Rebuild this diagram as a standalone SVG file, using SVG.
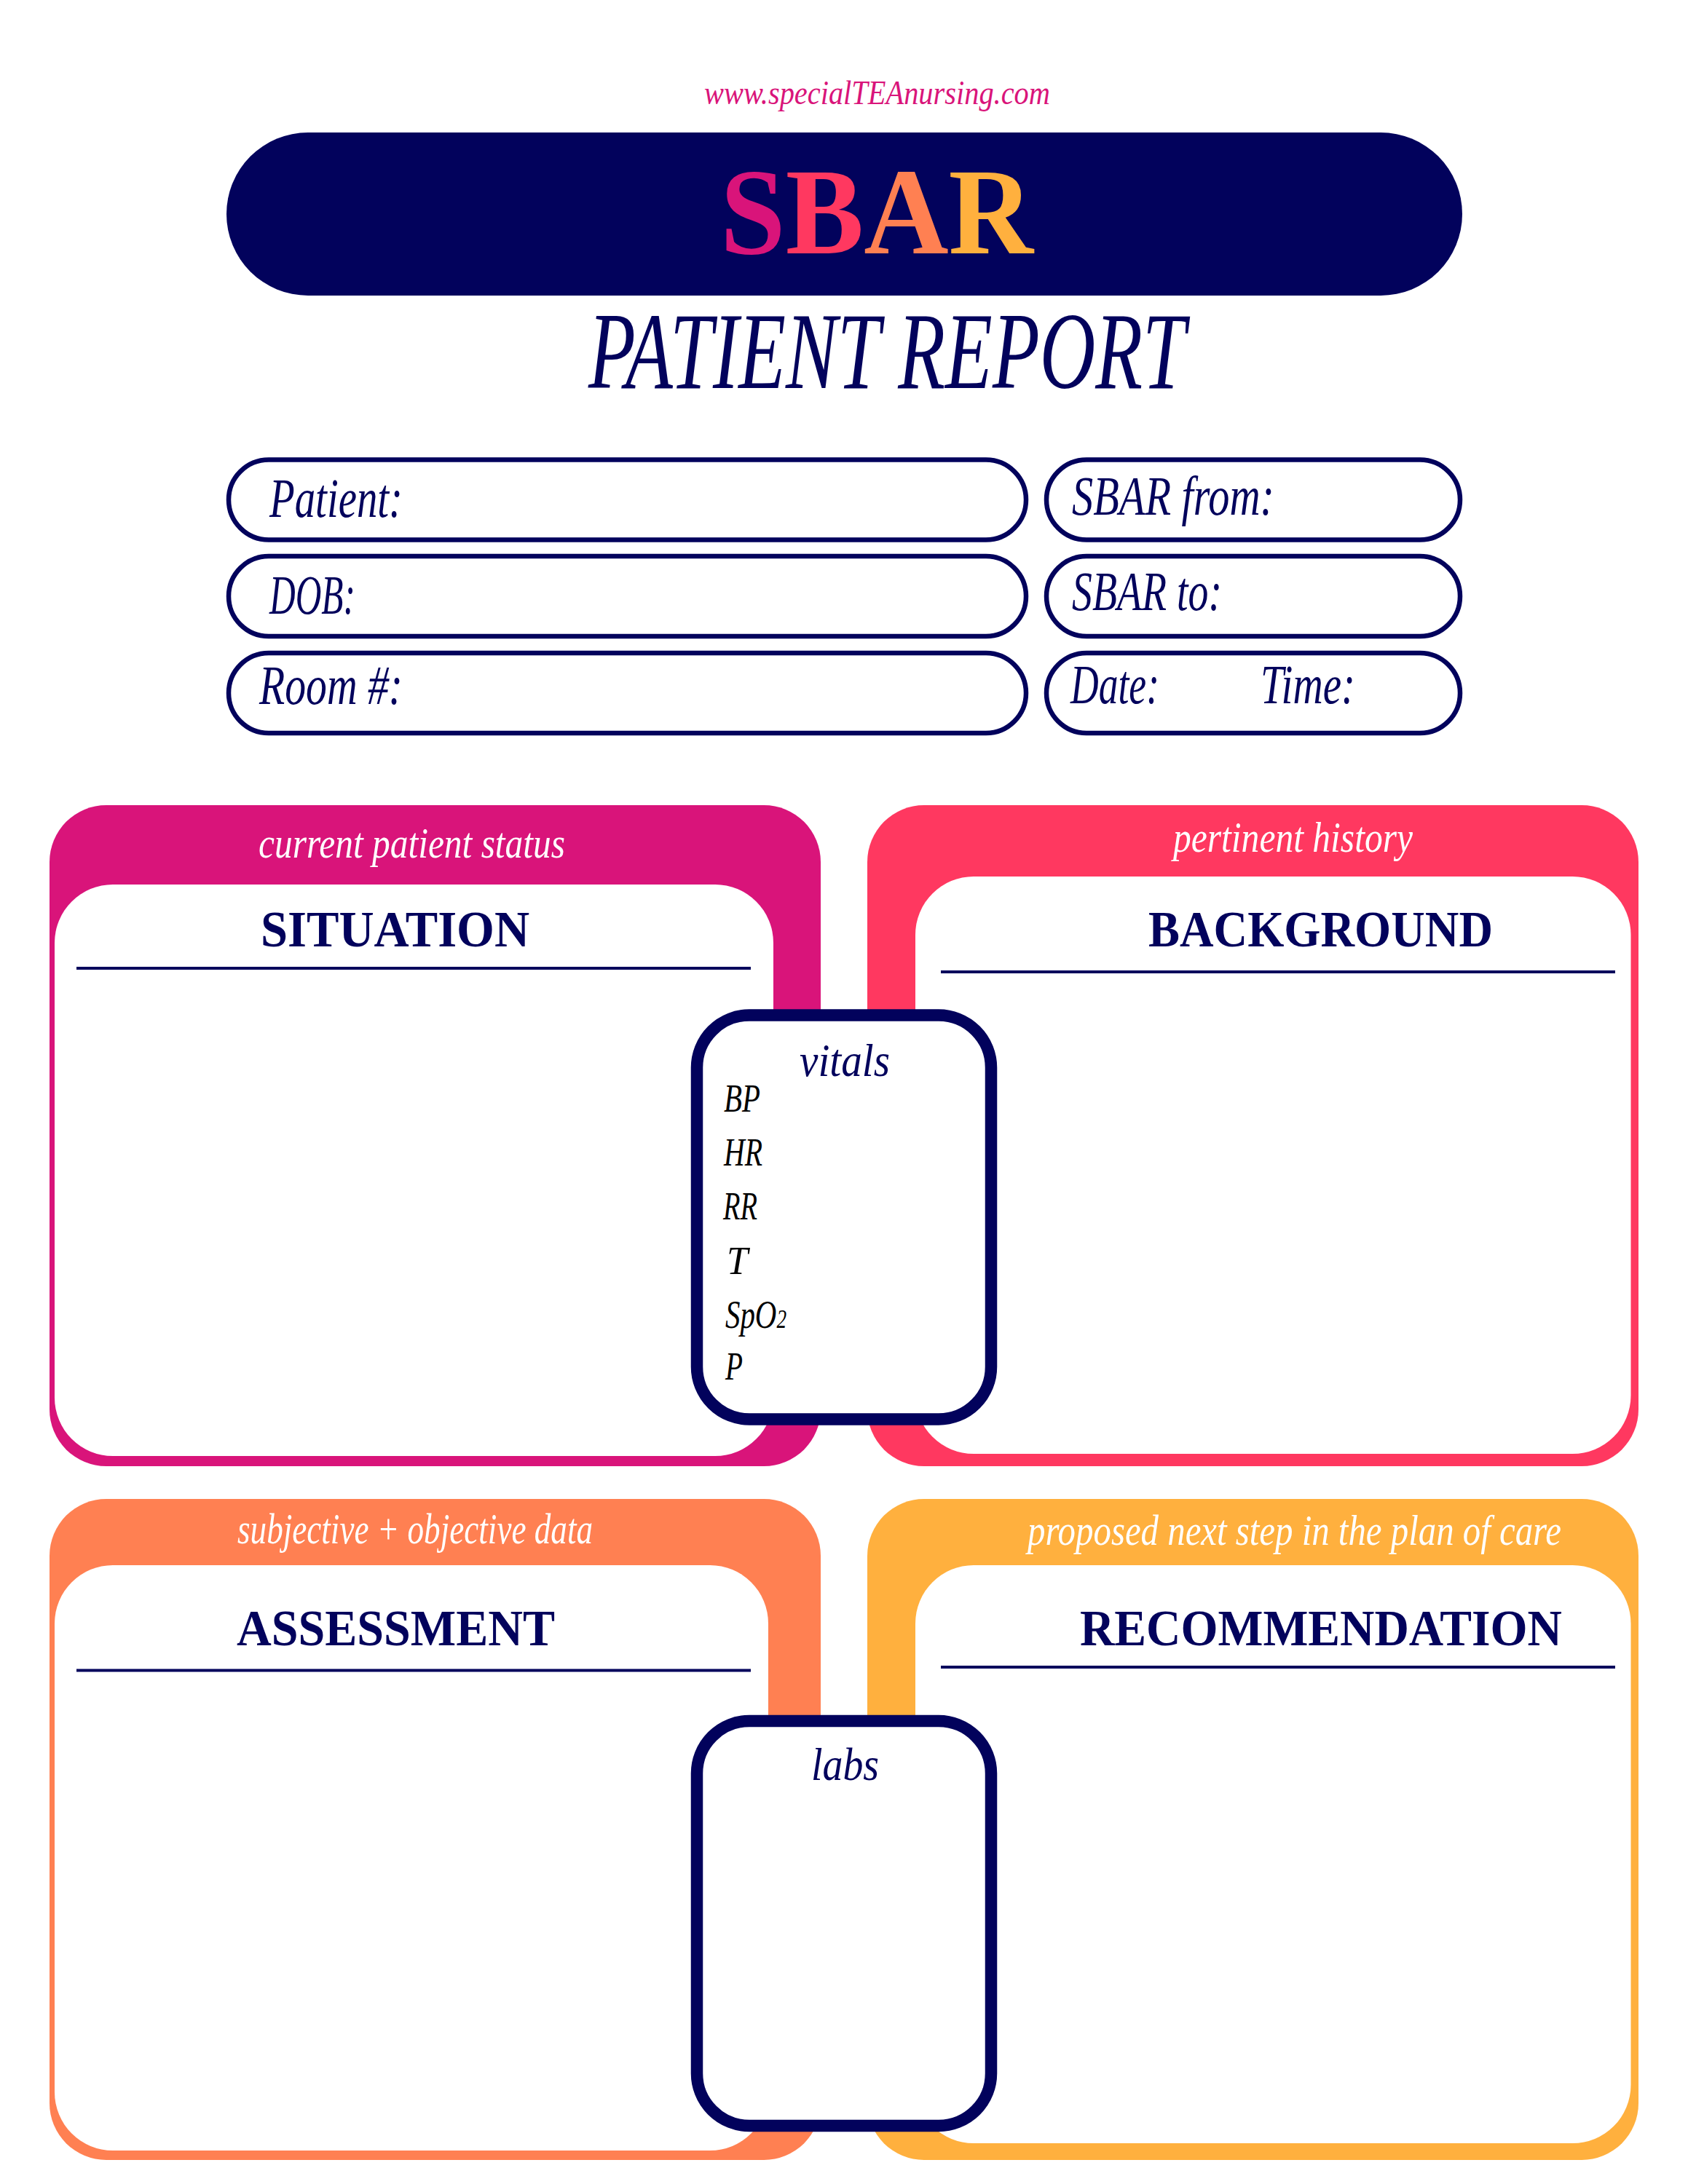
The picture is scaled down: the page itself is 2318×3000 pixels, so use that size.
<svg xmlns="http://www.w3.org/2000/svg" width="2318" height="3000" viewBox="0 0 2318 3000">
<style>
.serif{font-family:"Liberation Serif",serif;font-weight:700}
.script{font-family:"Liberation Serif",serif;font-style:italic;font-weight:400}
.navy{fill:#02025c}
.white{fill:#fff}
.black{fill:#000}
.field{fill:#fff;stroke:#02025c;stroke-width:6.500}
.head{font-size:70px;fill:#02025c}
.sub{font-size:60px;fill:#fff}
.label{font-size:76px;fill:#02025c}
.vital{font-size:54px;fill:#000}
.rule{stroke:#02025c;stroke-width:4}
.card{fill:#fff;stroke:#02025c;stroke-width:16.500}
</style>
<rect width="2318" height="3000" fill="#fff"/>

<g id="header">
<text class="script" x="967" y="143" font-size="46" fill="#d9147a" textLength="475" lengthAdjust="spacingAndGlyphs">www.specialTEAnursing.com</text>
<rect class="navy" x="311" y="182" width="1697" height="224" rx="112"/>
<text class="serif" x="989" y="348" font-size="170" textLength="430" lengthAdjust="spacingAndGlyphs"><tspan fill="#d9147a">S</tspan><tspan fill="#ff3860">B</tspan><tspan fill="#ff8052">A</tspan><tspan fill="#ffb03e">R</tspan></text>
<text class="script navy" x="808" y="533" font-size="150" textLength="820" lengthAdjust="spacingAndGlyphs">PATIENT REPORT</text>
</g>

<g id="field-patient"><rect class="field" x="314" y="631.500" width="1095" height="110" rx="55"/><text class="script label" x="370" y="710" textLength="183" lengthAdjust="spacingAndGlyphs">Patient:</text></g>
<g id="field-dob"><rect class="field" x="314" y="764" width="1095" height="110" rx="55"/><text class="script label" x="370" y="843" textLength="118" lengthAdjust="spacingAndGlyphs">DOB:</text></g>
<g id="field-room"><rect class="field" x="314" y="897" width="1095" height="110" rx="55"/><text class="script label" x="356" y="967" textLength="197" lengthAdjust="spacingAndGlyphs">Room #:</text></g>
<g id="field-from"><rect class="field" x="1437" y="631.500" width="568" height="110" rx="55"/><text class="script label" x="1472" y="707" textLength="278" lengthAdjust="spacingAndGlyphs">SBAR from:</text></g>
<g id="field-to"><rect class="field" x="1437" y="764" width="568" height="110" rx="55"/><text class="script label" x="1472" y="838" textLength="206" lengthAdjust="spacingAndGlyphs">SBAR to:</text></g>
<g id="field-datetime"><rect class="field" x="1437" y="897" width="568" height="110" rx="55"/><text class="script label" x="1470" y="966" textLength="122" lengthAdjust="spacingAndGlyphs">Date:</text><text class="script label" x="1731" y="966" textLength="130" lengthAdjust="spacingAndGlyphs">Time:</text></g>

<g id="situation">
<rect x="68" y="1106" width="1059" height="908" rx="78" fill="#d9147a"/>
<rect class="white" x="75" y="1215" width="987" height="785" rx="80"/>
<text class="script sub" x="355" y="1178" textLength="421" lengthAdjust="spacingAndGlyphs">current patient status</text>
<text class="serif head" x="358" y="1300" textLength="369" lengthAdjust="spacingAndGlyphs">SITUATION</text>
<line class="rule" x1="105" y1="1330" x2="1031" y2="1330"/>
</g>

<g id="background">
<rect x="1191" y="1106" width="1059" height="908" rx="78" fill="#ff3860"/>
<rect class="white" x="1257" y="1204" width="982.500" height="793" rx="80"/>
<text class="script sub" x="1611" y="1170" textLength="329" lengthAdjust="spacingAndGlyphs">pertinent history</text>
<text class="serif head" x="1577" y="1300" textLength="473" lengthAdjust="spacingAndGlyphs">BACKGROUND</text>
<line class="rule" x1="1292" y1="1335" x2="2218" y2="1335"/>
</g>

<g id="assessment">
<rect x="68" y="2059" width="1059" height="908" rx="78" fill="#ff8052"/>
<rect class="white" x="75" y="2150" width="980" height="804" rx="80"/>
<text class="script sub" x="326" y="2120" textLength="488" lengthAdjust="spacingAndGlyphs">subjective + objective data</text>
<text class="serif head" x="325" y="2260" textLength="437" lengthAdjust="spacingAndGlyphs">ASSESSMENT</text>
<line class="rule" x1="105" y1="2294.500" x2="1031" y2="2294.500"/>
</g>

<g id="recommendation">
<rect x="1191" y="2059" width="1059" height="908" rx="78" fill="#ffb03e"/>
<rect class="white" x="1257" y="2150" width="982.500" height="794" rx="80"/>
<text class="script sub" x="1411" y="2122" textLength="733" lengthAdjust="spacingAndGlyphs">proposed next step in the plan of care</text>
<text class="serif head" x="1483" y="2260" textLength="662" lengthAdjust="spacingAndGlyphs">RECOMMENDATION</text>
<line class="rule" x1="1292" y1="2290" x2="2218" y2="2290"/>
</g>

<g id="vitals">
<rect class="card" x="957" y="1394.500" width="404" height="555" rx="72"/>
<text class="script navy" x="1098" y="1478" font-size="64" textLength="124" lengthAdjust="spacingAndGlyphs">vitals</text>
<text class="script vital" x="994" y="1527" textLength="50" lengthAdjust="spacingAndGlyphs">BP</text>
<text class="script vital" x="994" y="1601" textLength="53" lengthAdjust="spacingAndGlyphs">HR</text>
<text class="script vital" x="993" y="1675" textLength="47" lengthAdjust="spacingAndGlyphs">RR</text>
<text class="script" x="998" y="1750" font-size="54" textLength="29" lengthAdjust="spacingAndGlyphs" fill="#000">T</text>
<text class="script vital" x="996" y="1824" textLength="84" lengthAdjust="spacingAndGlyphs">SpO<tspan font-size="36">2</tspan></text>
<text class="script vital" x="996" y="1895" textLength="24" lengthAdjust="spacingAndGlyphs">P</text>
</g>

<g id="labs">
<rect class="card" x="957" y="2364" width="404" height="556" rx="72"/>
<text class="script navy" x="1114" y="2445" font-size="64" textLength="93" lengthAdjust="spacingAndGlyphs">labs</text>
</g>
</svg>
